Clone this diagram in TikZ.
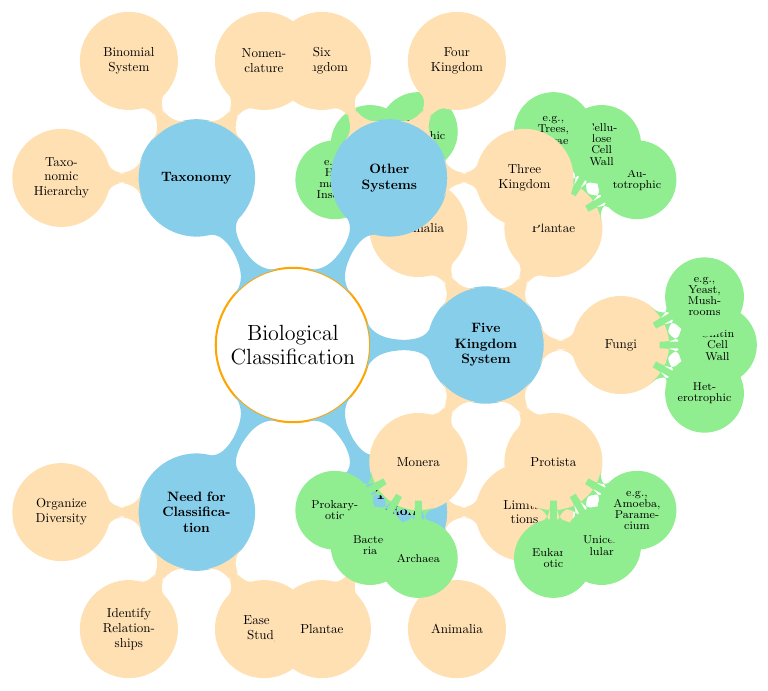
\documentclass[tikz,border=0pt]{standalone}
\usetikzlibrary{mindmap}
\definecolor{bluec}{HTML}{87CEEB}
\definecolor{orangec}{HTML}{FFE0B3}
\definecolor{greenc}{HTML}{90EE90}
\definecolor{ringc}{HTML}{FFA500}
\font\rootfont=cmr12 at 16.2pt
\tikzset{
  rootbox/.style={concept,fill=white,draw=ringc,line width=1.5pt,font=\fontsize{16.2}{17.6}\selectfont\rootfont,text=black,minimum size=4cm,text width=3.5cm,inner sep=1pt,align=center},
  lvlone/.style={font=\bfseries\fontsize{10}{11.5}\selectfont,align=center,text=black,minimum size=3cm,text width=2.3cm,inner sep=1pt},
  lvltwo/.style={font=\fontsize{9.6}{11}\selectfont,align=center,text=black,minimum size=2.5cm,text width=2cm,inner sep=1pt},
  lvlthree/.style={font=\fontsize{8.4}{8.2}\selectfont,align=center,text=black,minimum size=2cm,text width=1.5cm,inner sep=1pt},
}
\begin{document}
\begin{tikzpicture}[mindmap,grow cyclic,every node/.style={concept},concept color=bluec,
  level 1/.append style={level distance=5cm,sibling angle=60,concept color=bluec},
  level 2/.append style={level distance=3.5cm,sibling angle=60,concept color=orangec},
  level 3/.append style={level distance=2.5cm,sibling angle=30,concept color=greenc},
  ]
\useasboundingbox (-7.59,-8.94) rectangle (12.31,8.94);
\node[rootbox] (root) {Biological\\Classification}
  child[grow=-120] { node[lvlone] (need) {Need for\\Classifica-\\tion}
     child[grow=180] { node[lvltwo] (e1) {Organize\\Diversity} }
     child[grow=-120] { node[lvltwo] (e2) {Identify\\Relation-\\ships} }
     child[grow=-60] { node[lvltwo] (e3) {Ease of\\Study} }
  }
  child[grow=-60] { node[lvlone] (two) {Two\\Kingdom\\System}
     child[grow=-120] { node[lvltwo] (d1) {Plantae} }
     child[grow=-60] { node[lvltwo] (d2) {Animalia} }
     child[grow=0] { node[lvltwo] (d3) {Limita-\\tions} }
  }
  child[grow=0] { node[lvlone] (five) {Five\\Kingdom\\System}
     child[grow=-120] { node[lvltwo] (c5) {Monera}
        child[grow=-150] { node[lvlthree] (c5a) {Prokary-\\otic} }
        child[grow=-120] { node[lvlthree] (c5b) {Bacte-\\ria} }
        child[grow=-90] { node[lvlthree] (c5c) {Archaea} }
     }
     child[grow=-60] { node[lvltwo] (c4) {Protista}
        child[grow=-90] { node[lvlthree] (c4a) {Eukary-\\otic} }
        child[grow=-60] { node[lvlthree] (c4b) {Unicel-\\lular} }
        child[grow=-30] { node[lvlthree] (c4c) {e.g.,\\Amoeba,\\Parame-\\cium} }
     }
     child[grow=0] { node[lvltwo] (c3) {Fungi}
        child[grow=-30] { node[lvlthree] (c3a) {Het-\\erotrophic} }
        child[grow=0] { node[lvlthree] (c3b) {Chitin\\Cell\\Wall} }
        child[grow=30] { node[lvlthree] (c3c) {e.g.,\\Yeast,\\Mush-\\rooms} }
     }
     child[grow=60] { node[lvltwo] (c2) {Plantae}
        child[grow=30] { node[lvlthree] (c2a) {Au-\\totrophic} }
        child[grow=60] { node[lvlthree] (c2b) {Cellu-\\lose\\Cell\\Wall} }
        child[grow=90] { node[lvlthree] (c2c) {e.g.,\\Trees,\\Algae} }
     }
     child[grow=120] { node[lvltwo] (c1) {Animalia}
        child[grow=90] { node[lvlthree] (c1c) {Het-\\erotrophic} }
        child[grow=120] { node[lvlthree] (c1b) {} }
        child[grow=150] { node[lvlthree] (c1a) {e.g.,\\Hu-\\mans,\\Insects} }
     }
  }
  child[grow=60] { node[lvlone] (oth) {Other\\Systems}
     child[grow=0] { node[lvltwo] (b3) {Three\\Kingdom} }
     child[grow=60] { node[lvltwo] (b2) {Four\\Kingdom} }
     child[grow=120] { node[lvltwo] (b1) {Six\\Kingdom} }
  }
  child[grow=120] { node[lvlone] (tax) {Taxonomy}
     child[grow=60] { node[lvltwo] (a3) {Nomen-\\clature} }
     child[grow=120] { node[lvltwo] (a2) {Binomial\\System} }
     child[grow=180] { node[lvltwo] (a1) {Taxo-\\nomic\\Hierarchy} }
  };
\end{tikzpicture}
\end{document}
